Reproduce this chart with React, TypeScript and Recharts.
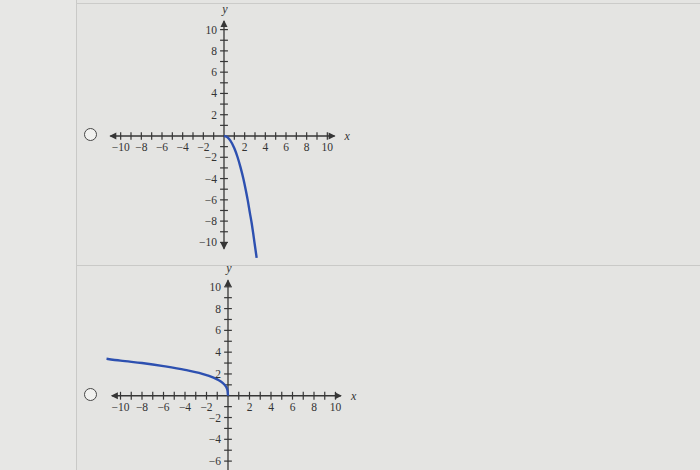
import React from 'react';
import { LineChart, Line, XAxis, YAxis, ReferenceLine, ReferenceDot } from 'recharts';

// Graph 1 (upper option): curve
const curve1X = [0, 0.3, 0.6, 1.0, 1.3, 1.6, 1.87, 2.1, 2.3, 2.5, 2.68, 2.82, 2.94, 3.16];
const curve1Y = [0, -0.1, -0.41, -1.15, -1.95, -2.95, -4, -5.05, -6.05, -7.2, -8.2, -9.1, -9.95, -11.45];

// Graph 2 (lower option)
const curve2X = [-11.3, -10, -8, -6, -4, -2, -1, -0.5, -0.2, -0.05, 0];
const curve2Y = [3.4, 3.22, 3.0, 2.72, 2.38, 1.9, 1.5, 1.18, 0.85, 0.5, 0];

// Tick marks and tick labels
const xTicks = [-10, -9, -8, -7, -6, -5, -4, -3, -2, -1, 1, 2, 3, 4, 5, 6, 7, 8, 9, 10];
const xTickLabels = [-10, -8, -6, -4, -2, 2, 4, 6, 8, 10];
const yTicks1 = [-10, -9, -8, -7, -6, -5, -4, -3, -2, -1, 1, 2, 3, 4, 5, 6, 7, 8, 9, 10];
const yTickLabels1 = [-10, -8, -6, -4, -2, 2, 4, 6, 8, 10];
const yTicks2 = [-6, -5, -4, -3, -2, -1, 1, 2, 3, 4, 5, 6, 7, 8, 9, 10];
const yTickLabels2 = [-6, -4, -2, 2, 4, 6, 8, 10];

const AXIS = '#363636';
const CURVE = '#2d50b0';
const FONT = '"Liberation Serif", "DejaVu Serif", serif';

const fmt = (v: number) => (v < 0 ? '\u2212' + Math.abs(v) : String(v));

type AxisOpts = {
  id: string;
  xMin: number; xMax: number; yMin: number; yMax: number;
  xTicks: number[]; xLabels: number[]; yTicks: number[]; yLabels: number[];
  xTickHalf: number; yTickHalf: number;
  showBottomArrow: boolean;
};

const arrow = (dir: 'l' | 'r' | 'u' | 'd') => (p: any) => {
  const { cx, cy } = p;
  let d = '';
  if (dir === 'r') d = `M${cx + 1},${cy} L${cx - 6},${cy - 3.5} L${cx - 6},${cy + 3.5} Z`;
  if (dir === 'l') d = `M${cx - 1},${cy} L${cx + 6},${cy - 3.5} L${cx + 6},${cy + 3.5} Z`;
  if (dir === 'u') d = `M${cx},${cy - 1} L${cx - 3.5},${cy + 6} L${cx + 3.5},${cy + 6} Z`;
  if (dir === 'd') d = `M${cx},${cy + 1} L${cx - 3.5},${cy - 6} L${cx + 3.5},${cy - 6} Z`;
  return <path d={d} fill={AXIS} stroke="none" />;
};

function axisElements(o: AxisOpts) {
  const els: React.ReactNode[] = [];
  els.push(
    <ReferenceLine key={o.id + 'xa'} ifOverflow="visible" stroke={AXIS} strokeWidth={1.3}
      segment={[{ x: o.xMin, y: 0 }, { x: o.xMax, y: 0 }]} />
  );
  els.push(
    <ReferenceLine key={o.id + 'ya'} ifOverflow="visible" stroke={AXIS} strokeWidth={1.3}
      segment={[{ x: 0, y: o.yMin }, { x: 0, y: o.yMax }]} />
  );
  o.xTicks.forEach((t) =>
    els.push(
      <ReferenceLine key={o.id + 'xt' + t} ifOverflow="visible" stroke={AXIS} strokeWidth={1.2}
        segment={[{ x: t, y: -o.yTickHalf }, { x: t, y: o.yTickHalf }]} />
    )
  );
  o.yTicks.forEach((t) =>
    els.push(
      <ReferenceLine key={o.id + 'yt' + t} ifOverflow="visible" stroke={AXIS} strokeWidth={1.2}
        segment={[{ x: -o.xTickHalf, y: t }, { x: o.xTickHalf, y: t }]} />
    )
  );
  o.xLabels.forEach((t) =>
    els.push(
      <ReferenceDot key={o.id + 'xl' + t} x={t} y={0} r={0} ifOverflow="visible"
        shape={(p: any) => (
          <text x={p.cx} y={p.cy + 15} textAnchor="middle" fontSize={11.5} fontFamily={FONT} fill="#333">
            {fmt(t)}
          </text>
        )} />
    )
  );
  o.yLabels.forEach((t) =>
    els.push(
      <ReferenceDot key={o.id + 'yl' + t} x={0} y={t} r={0} ifOverflow="visible"
        shape={(p: any) => (
          <text x={p.cx - 7} y={p.cy + 4} textAnchor="end" fontSize={11.5} fontFamily={FONT} fill="#333">
            {fmt(t)}
          </text>
        )} />
    )
  );
  els.push(<ReferenceDot key={o.id + 'ar'} x={o.xMax} y={0} r={0} ifOverflow="visible" shape={arrow('r')} />);
  els.push(<ReferenceDot key={o.id + 'al'} x={o.xMin} y={0} r={0} ifOverflow="visible" shape={arrow('l')} />);
  els.push(<ReferenceDot key={o.id + 'au'} x={0} y={o.yMax} r={0} ifOverflow="visible" shape={arrow('u')} />);
  if (o.showBottomArrow)
    els.push(<ReferenceDot key={o.id + 'ad'} x={0} y={o.yMin} r={0} ifOverflow="visible" shape={arrow('d')} />);
  els.push(
    <ReferenceDot key={o.id + 'xn'} x={o.xMax} y={0} r={0} ifOverflow="visible"
      shape={(p: any) => (
        <text x={p.cx + 10} y={p.cy + 4} fontSize={12} fontStyle="italic" fontFamily={FONT} fill="#333">x</text>
      )} />
  );
  els.push(
    <ReferenceDot key={o.id + 'yn'} x={0} y={o.yMax} r={0} ifOverflow="visible"
      shape={(p: any) => (
        <text x={p.cx + 1} y={p.cy - 8} textAnchor="middle" fontSize={12} fontStyle="italic" fontFamily={FONT} fill="#333">y</text>
      )} />
  );
  return els;
}

const data1 = curve1X.map((x, i) => ({ x, y: curve1Y[i] }));
const data2 = curve2X.map((x, i) => ({ x, y: curve2Y[i] }));

const Radio = ({ top }: { top: number }) => (
  <div style={{
    position: 'absolute', left: 83.5, top: top - 7, width: 11, height: 11, borderRadius: '50%',
    border: '1.5px solid #474747', background: '#f1f1ef',
  }} />
);

const M = 30;

export default function App() {
  return (
    <div style={{ position: 'fixed', left: 0, top: 0, width: 700, height: 470, overflow: 'hidden', background: '#e4e4e2' }}>
      <div style={{ position: 'absolute', left: 0, top: 0, width: 76, height: 470, background: '#e7e7e5' }} />
      <div style={{ position: 'absolute', left: 76, top: 0, width: 1, height: 470, background: '#c9c9c7' }} />
      <div style={{ position: 'absolute', left: 76, top: 3, width: 624, height: 1, background: '#cbcbc9' }} />
      <div style={{ position: 'absolute', left: 76, top: 265, width: 624, height: 1, background: '#c9c9c7' }} />
      <Radio top={135} />
      <Radio top={395} />

      <div style={{ position: 'absolute', left: 100 - M, top: 3 - M }}>
        <LineChart width={248 + 2 * M} height={266 + 2 * M} data={data1} margin={{ top: M, right: M, bottom: M, left: M }}>
          <XAxis type="number" dataKey="x" domain={[-12, 12]} hide allowDataOverflow />
          <YAxis type="number" domain={[-12.5, 12.5]} hide allowDataOverflow />
          {axisElements({
            id: 'a', xMin: -11, xMax: 10.7, yMin: -10.6, yMax: 10.8,
            xTicks, xLabels: xTickLabels, yTicks: yTicks1, yLabels: yTickLabels1,
            xTickHalf: 0.38, yTickHalf: 0.36, showBottomArrow: true,
          })}
          <Line type="monotone" dataKey="y" stroke={CURVE} strokeWidth={2.4} dot={false} isAnimationActive={false} />
        </LineChart>
      </div>

      <div style={{ position: 'absolute', left: 98.5 - M, top: 264.7 - M }}>
        <LineChart width={258 + 2 * M} height={207 + 2 * M} data={data2} margin={{ top: M, right: M, bottom: M, left: M }}>
          <XAxis type="number" dataKey="x" domain={[-12, 12]} hide allowDataOverflow />
          <YAxis type="number" domain={[-7, 12]} hide allowDataOverflow />
          {axisElements({
            id: 'b', xMin: -10.8, xMax: 10.5, yMin: -7.5, yMax: 10.6,
            xTicks, xLabels: xTickLabels, yTicks: yTicks2, yLabels: yTickLabels2,
            xTickHalf: 0.36, yTickHalf: 0.36, showBottomArrow: false,
          })}
          <Line type="monotone" dataKey="y" stroke={CURVE} strokeWidth={2.4} dot={false} isAnimationActive={false} />
        </LineChart>
      </div>
    </div>
  );
}
